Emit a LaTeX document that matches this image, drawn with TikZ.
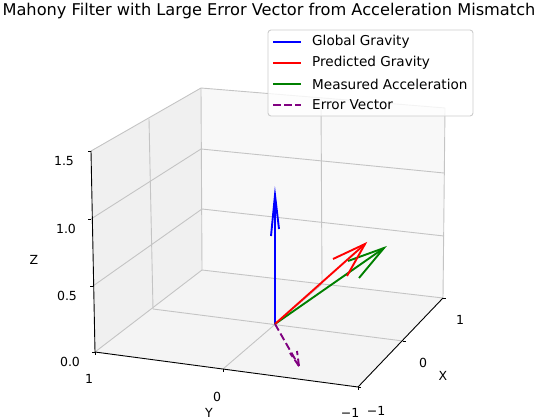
\documentclass[tikz,border=0pt]{standalone}
\usepackage{fontspec}
\setmainfont{DejaVu Sans}
\definecolor{paneL}{HTML}{F0F0F0}
\definecolor{paneR}{HTML}{F8F8F8}
\definecolor{paneF}{HTML}{F4F4F4}
\definecolor{gridc}{HTML}{C4C4C4}
\definecolor{mgreen}{RGB}{0,128,0}
\definecolor{mpurple}{RGB}{128,0,128}
\tikzset{
  gridline/.style={draw=gridc, line width=0.9pt},
  axisline/.style={draw=black, line width=0.9pt},
  vec/.style={line width=1.9pt, line cap=butt},
  errvec/.style={vec, dash pattern=on 7.5pt off 3.5pt},
  ticklab/.style={font=\fontsize{12.5}{14}\selectfont, inner sep=0pt},
  axlab/.style={font=\fontsize{12.5}{14}\selectfont, inner sep=0pt},
  legtext/.style={font=\fontsize{13.6}{16}\selectfont, anchor=west, inner sep=0pt},
}
\begin{document}
\begin{tikzpicture}[x=1pt, y=-1pt]
\useasboundingbox (0,0) rectangle (538,420);
% key points
\coordinate (FL0) at (95,352);   % x=-1,y=1,z=0
\coordinate (FL3) at (91,151);
\coordinate (B0) at (202,270);   % x=1,y=1,z=0
\coordinate (B3) at (201,88);
\coordinate (R0) at (443,298);   % x=1,y=-1,z=0
\coordinate (R3) at (445,108);
\coordinate (FR0) at (358,387);  % x=-1,y=-1,z=0
\coordinate (O) at (275,324);
% panes
\fill[paneL] (FL0) -- (FL3) -- (B3) -- (B0) -- cycle;
\fill[paneR] (B0) -- (B3) -- (R3) -- (R0) -- cycle;
\fill[paneF] (FL0) -- (B0) -- (R0) -- (FR0) -- cycle;
% gridlines left pane
\coordinate (Lz1) at (93,286); \coordinate (Bz1) at (202,209);
\coordinate (Lz2) at (91,219); \coordinate (Bz2) at (201,149);
\coordinate (Lx0b) at (153,309); \coordinate (Lx0t) at (149,119);
\draw[gridline] (FL0) -- (B0);
\draw[gridline] (Lz1) -- (Bz1);
\draw[gridline] (Lz2) -- (Bz2);
\draw[gridline] (FL3) -- (B3);
\draw[gridline] (Lx0b) -- (Lx0t);
\draw[gridline] (B0) -- (B3);
% gridlines right pane
\coordinate (Rz1) at (444,236);
\coordinate (Rz2) at (444,173);
\coordinate (Ry0b) at (322,284); \coordinate (Ry0t) at (321,99);
\draw[gridline] (B0) -- (R0);
\draw[gridline] (Bz1) -- (Rz1);
\draw[gridline] (Bz2) -- (Rz2);
\draw[gridline] (B3) -- (R3);
\draw[gridline] (Ry0b) -- (Ry0t);
\draw[gridline] (R0) -- (R3);
% floor gridlines
\coordinate (Fx0) at (403,341);
\coordinate (Fy0) at (223,369);
\draw[gridline] (Lx0b) -- (Fx0);
\draw[gridline] (Fy0) -- (Ry0b);
% axes
\draw[axisline] (FL0) -- (FL3);
\draw[axisline] (FL0) -- (FR0);
\draw[axisline] (FR0) -- (R0);
% ticks
\draw[axisline] (FL3) -- ++(-3,0);
\draw[axisline] (Lz2) -- ++(-3,0);
\draw[axisline] (Lz1) -- ++(-3,0);
\draw[axisline] (FL0) -- ++(-3,0);
\draw[axisline] (FL0) -- ++(0,3);
\draw[axisline] (Fy0) -- ++(0,3);
\draw[axisline] (FR0) -- ++(0,3);
\draw[axisline] (FR0) -- ++(3,0);
\draw[axisline] (Fx0) -- ++(3,0);
\draw[axisline] (R0) -- ++(3,0);
% tick labels
\node[ticklab] (z15) at (64,161) {1.5};
\node[ticklab] (z10) at (66,229) {1.0};
\node[ticklab] (z05) at (67,296) {0.5};
\node[ticklab] (z00) at (70,362) {0.0};
\node[axlab] (zl) at (34,260) {Z};
\node[ticklab] (y1) at (89,379) {1};
\node[ticklab] (y0) at (217,397) {0};
\node[ticklab] (ym1) at (350,413) {−1};
\node[axlab] (yl) at (209,413) {Y};
\node[ticklab] (xm1) at (376,411) {−1};
\node[ticklab] (x0) at (423,363) {0};
\node[ticklab] (x1) at (460,320) {1};
\node[axlab] (xl) at (443,376) {X};
% vectors
\coordinate (Btip) at (275,195);
\coordinate (Bb1) at (271,236); \coordinate (Bb2) at (279,229);
\draw[vec, blue] (O) -- (Btip);
\draw[vec, blue] (Bb1) -- (Btip) -- (Bb2);
\coordinate (Gtip) at (384,248);
\coordinate (Gb1) at (348,261); \coordinate (Gb2) at (359,278);
\draw[vec, mgreen] (O) -- (Gtip);
\draw[vec, mgreen] (Gb1) -- (Gtip) -- (Gb2);
\coordinate (Rtip) at (365,244);
\coordinate (Rb1) at (333,259); \coordinate (Rb2) at (347,276);
\draw[vec, red] (O) -- (Rtip);
\draw[vec, red] (Rb1) -- (Rtip) -- (Rb2);
\coordinate (Etip) at (299,366);
\coordinate (Eb1) at (290,353); \coordinate (Eb2) at (297,351);
\draw[errvec, mpurple] (O) -- (Etip);
\draw[errvec, mpurple] (Etip) -- (Eb1);
\draw[errvec, mpurple] (Etip) -- (Eb2);
% title
\node[font=\fontsize{16.2}{19}\selectfont, anchor=base, inner sep=0pt] (title) at (269,16) {Mahony Filter with Large Error Vector from Acceleration Mismatch};
% legend
\draw[draw=black!20, fill=white, fill opacity=0.8, rounded corners=3pt, line width=0.9pt] (268,30) rectangle (473,116);
\coordinate (l1a) at (273,42); \coordinate (l1b) at (301,42);
\coordinate (l2a) at (273,63); \coordinate (l2b) at (301,63);
\coordinate (l3a) at (273,84); \coordinate (l3b) at (301,84);
\coordinate (l4a) at (273,105); \coordinate (l4b) at (301,105);
\draw[vec, blue] (l1a) -- (l1b);
\draw[vec, red] (l2a) -- (l2b);
\draw[vec, mgreen] (l3a) -- (l3b);
\draw[errvec, mpurple] (l4a) -- (l4b);
\node[legtext] (t1) at (312,42) {Global Gravity};
\node[legtext] (t2) at (312,63) {Predicted Gravity};
\node[legtext] (t3) at (312,84) {Measured Acceleration};
\node[legtext] (t4) at (312,105) {Error Vector};
\end{tikzpicture}
\end{document}
